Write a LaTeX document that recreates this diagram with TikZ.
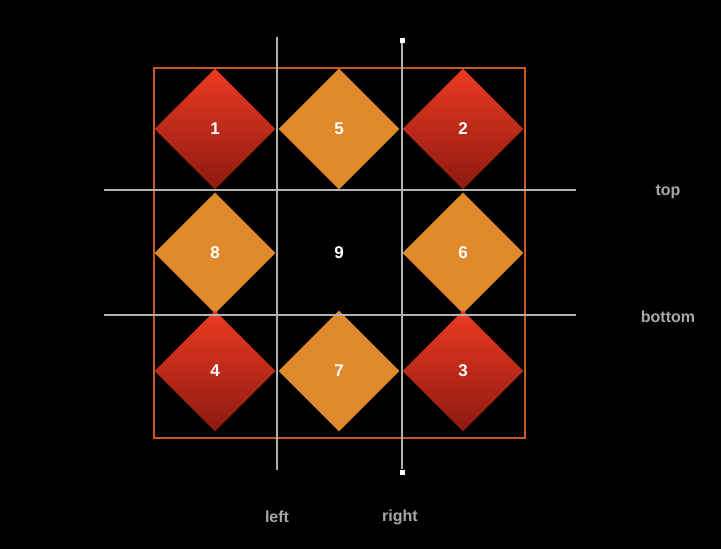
\documentclass[tikz,border=0pt]{standalone}
\usepackage{fontspec}
\setmainfont{Liberation Sans}
\usetikzlibrary{shapes.geometric}
\definecolor{org}{HTML}{E08A2C}
\definecolor{redt}{HTML}{EC3A22}
\definecolor{redb}{HTML}{8C1A10}
\definecolor{lab}{HTML}{A8A8A8}
\tikzset{
 dia/.style={diamond,minimum width=121pt,minimum height=121pt,inner sep=0pt,text=white,font=\bfseries\fontsize{17}{17}\selectfont},
 reddia/.style={dia,top color=redt,bottom color=redb},
 orgdia/.style={dia,fill=org},
 grid/.style={draw=lab!90,line width=1.8pt},
 lbl/.style={text=lab,font=\bfseries\fontsize{16}{16}\selectfont},
 handle/.style={fill=white,minimum size=5pt,inner sep=0pt}
}
\begin{document}
\begin{tikzpicture}[x=1pt,y=-1pt]
\fill[black] (0,0) rectangle (721,549);
\useasboundingbox (0,0) rectangle (721,549);
\draw[draw={rgb,255:red,200;green,90;blue,40},line width=1.2pt] (154,68) rectangle (525,438);
\node[reddia] (n1) at (215,129) {1};
\node[orgdia] (n5) at (339,129) {5};
\node[reddia] (n2) at (463,129) {2};
\node[orgdia] (n8) at (215,253) {8};
\node[dia] (n9) at (339,253) {9};
\node[orgdia] (n6) at (463,253) {6};
\node[reddia] (n4) at (215,371) {4};
\node[orgdia] (n7) at (339,371) {7};
\node[reddia] (n3) at (463,371) {3};
\coordinate (lt) at (277,37); \coordinate (lb) at (277,470);
\node[handle] (rt) at (402,40) {}; \node[handle] (rb) at (402,472) {};
\coordinate (tl) at (104,190); \coordinate (tr) at (576,190);
\coordinate (bl) at (104,315); \coordinate (br) at (576,315);
\draw[grid] (lt) -- (lb);
\draw[grid] (rt) -- (rb);
\draw[grid] (tl) -- (tr);
\draw[grid] (bl) -- (br);
\node[lbl] (top) at (668,192) {top};
\node[lbl] (bottom) at (668,317) {bottom};
\node[lbl] (left) at (277,517) {left};
\node[lbl] (right) at (400,517) {right};
\end{tikzpicture}
\end{document}
